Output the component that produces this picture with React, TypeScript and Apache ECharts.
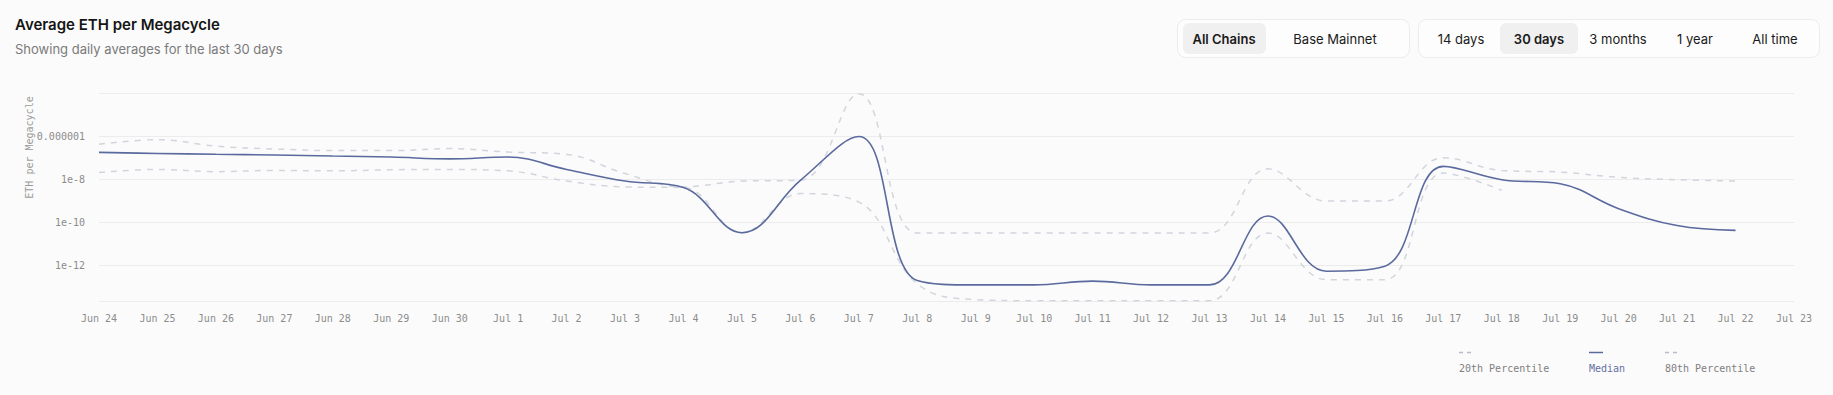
import React, { useEffect, useRef } from "react";
import * as echarts from "echarts";

const days = [
  "Jun 24", "Jun 25", "Jun 26", "Jun 27", "Jun 28", "Jun 29", "Jun 30",
  "Jul 1", "Jul 2", "Jul 3", "Jul 4", "Jul 5", "Jul 6", "Jul 7", "Jul 8",
  "Jul 9", "Jul 10", "Jul 11", "Jul 12", "Jul 13", "Jul 14", "Jul 15",
  "Jul 16", "Jul 17", "Jul 18", "Jul 19", "Jul 20", "Jul 21", "Jul 22", "Jul 23",
];

const median: (number | null)[] = [
  1.74e-7, 1.55e-7, 1.41e-7, 1.32e-7, 1.17e-7, 1.05e-7, 8.7e-8,
  1.05e-7, 2.8e-8, 8.1e-9, 4.0e-9, 3.2e-11, 8.7e-9, 9.5e-7, 1.9e-13,
  1.2e-13, 1.2e-13, 1.8e-13, 1.2e-13, 1.2e-13, 1.9e-10, 5.2e-13,
  8.9e-13, 3.9e-8, 9.3e-9, 6.0e-9, 4.2e-10, 6.9e-11, 4.1e-11, null,
];

const p80: (number | null)[] = [
  4.1e-7, 6.8e-7, 3.4e-7, 2.5e-7, 2.1e-7, 2.1e-7, 2.6e-7,
  1.8e-7, 1.4e-7, 1.8e-8, 4.3e-9, 8.1e-9, 8.7e-9, 9.3e-5, 3.1e-11,
  3.1e-11, 3.1e-11, 3.1e-11, 3.1e-11, 3.1e-11, 3.0e-8, 9.5e-10,
  9.5e-10, 9.8e-8, 2.5e-8, 2.1e-8, 1.2e-8, 9.3e-9, 8.1e-9, null,
];

const p20: (number | null)[] = [
  2.0e-8, 2.8e-8, 2.2e-8, 2.5e-8, 2.4e-8, 2.7e-8, 2.8e-8,
  2.4e-8, 8.1e-9, 4.3e-9, 4.0e-9, 3.2e-11, 2.1e-9, 8.5e-10, 1.35e-13,
  2.5e-14, 2.2e-14, 2.2e-14, 2.2e-14, 2.2e-14, 3.1e-11, 2.1e-13,
  2.1e-13, 1.9e-8, 3.0e-9, null, null, null, null, null,
];

const yTickExps = [-12, -10, -8, -6];
const yTickLabels = ["1e-12", "1e-10", "1e-8", "0.000001"];

const chainOptions = ["All Chains", "Base Mainnet"];
const rangeOptions = ["14 days", "30 days", "3 months", "1 year", "All time"];

const MONO = "'DejaVu Sans Mono', monospace";
const SANS = "Inter, 'Noto Sans', sans-serif";

const toLog = (arr: (number | null)[]) =>
  arr.map((v) => (v == null ? null : Math.log10(v)));

export default function App() {
  const ref = useRef<HTMLDivElement>(null);

  useEffect(() => {
    document.body.style.margin = "0";
    if (!ref.current) return;
    const chart = echarts.init(ref.current, null, { renderer: "svg" });

    const chainX = [1224, 1335];
    const rangeX = [1461, 1539, 1618, 1695, 1775];

    const graphic: any[] = [
      {
        type: "text",
        left: 15,
        top: 17,
        style: {
          text: "Average ETH per Megacycle",
          font: `600 15px ${SANS}`,
          fill: "#151515",
        },
      },
      {
        type: "text",
        left: 15,
        top: 42,
        style: {
          text: "Showing daily averages for the last 30 days",
          font: `400 13px ${SANS}`,
          fill: "#7a7a7a",
        },
      },
      {
        type: "rect",
        shape: { x: 1177.5, y: 19.5, width: 232, height: 38, r: 8 },
        style: { fill: "#fdfdfd", stroke: "#ececec", lineWidth: 1 },
      },
      {
        type: "rect",
        shape: { x: 1183, y: 23, width: 83, height: 31, r: 6 },
        style: { fill: "#f0f0f0" },
      },
      {
        type: "rect",
        shape: { x: 1418.5, y: 19.5, width: 401, height: 38, r: 8 },
        style: { fill: "#fdfdfd", stroke: "#ececec", lineWidth: 1 },
      },
      {
        type: "rect",
        shape: { x: 1500, y: 23, width: 78, height: 31, r: 6 },
        style: { fill: "#f0f0f0" },
      },
      ...chainOptions.map((t, i) => ({
        type: "text",
        x: chainX[i],
        y: 38.5,
        style: {
          text: t,
          font: `${i === 0 ? 600 : 400} 13px ${SANS}`,
          fill: "#1a1a1a",
          align: "center",
          verticalAlign: "middle",
        },
      })),
      ...rangeOptions.map((t, i) => ({
        type: "text",
        x: rangeX[i],
        y: 38.5,
        style: {
          text: t,
          font: `${i === 1 ? 600 : 400} 13px ${SANS}`,
          fill: "#1a1a1a",
          align: "center",
          verticalAlign: "middle",
        },
      })),
      {
        type: "text",
        x: 29,
        y: 147.5,
        rotation: Math.PI / 2,
        style: {
          text: "ETH per Megacycle",
          font: `400 10px ${MONO}`,
          fill: "#9a9a9a",
          align: "center",
          verticalAlign: "middle",
        },
      },
      {
        type: "line",
        shape: { x1: 1459, y1: 352.5, x2: 1472, y2: 352.5 },
        style: { stroke: "#b8bcc8", lineWidth: 1.5, lineDash: [4, 4] },
      },
      {
        type: "text",
        x: 1459,
        y: 368,
        style: {
          text: "20th Percentile",
          font: `400 10px ${MONO}`,
          fill: "#808080",
          verticalAlign: "middle",
        },
      },
      {
        type: "line",
        shape: { x1: 1589, y1: 352.5, x2: 1603, y2: 352.5 },
        style: { stroke: "#5a6a9e", lineWidth: 1.5 },
      },
      {
        type: "text",
        x: 1589,
        y: 368,
        style: {
          text: "Median",
          font: `400 10px ${MONO}`,
          fill: "#6470a2",
          verticalAlign: "middle",
        },
      },
      {
        type: "line",
        shape: { x1: 1665, y1: 352.5, x2: 1678, y2: 352.5 },
        style: { stroke: "#b8bcc8", lineWidth: 1.5, lineDash: [4, 4] },
      },
      {
        type: "text",
        x: 1665,
        y: 368,
        style: {
          text: "80th Percentile",
          font: `400 10px ${MONO}`,
          fill: "#808080",
          verticalAlign: "middle",
        },
      },
    ];

    const lineBase = {
      type: "line",
      smooth: 0.4,
      showSymbol: false,
    };

    chart.setOption({
      animation: false,
      backgroundColor: "#fbfbfb",
      grid: { left: 99, right: 39, top: 93, bottom: 94 },
      xAxis: {
        type: "category",
        data: days,
        boundaryGap: false,
        axisLine: { show: false },
        axisTick: { show: false },
        splitLine: { show: false },
        axisLabel: {
          interval: 0,
          margin: 12,
          color: "#8c8c8c",
          fontFamily: MONO,
          fontSize: 10,
        },
      },
      yAxis: {
        type: "value",
        min: -13.67,
        max: -4,
        minInterval: 2,
        maxInterval: 2,
        axisLine: { show: false },
        axisTick: { show: false },
        splitLine: { show: true, lineStyle: { color: "#ececec", width: 1 } },
        axisLabel: {
          margin: 14,
          color: "#8c8c8c",
          fontFamily: MONO,
          fontSize: 10,
          formatter: (v: number) => {
            const r = Math.round(v);
            if (Math.abs(v - r) > 0.01) return "";
            const i = yTickExps.indexOf(r);
            return i >= 0 ? yTickLabels[i] : "";
          },
        },
      },
      series: [
        {
          ...lineBase,
          name: "20th Percentile",
          data: toLog(p20),
          lineStyle: { color: "#d2d5de", width: 1.5, type: [6, 6] },
          z: 2,
        },
        {
          ...lineBase,
          name: "80th Percentile",
          data: toLog(p80),
          lineStyle: { color: "#d2d5de", width: 1.5, type: [6, 6] },
          z: 2,
        },
        {
          ...lineBase,
          name: "Median",
          data: toLog(median),
          lineStyle: { color: "#5a6a9e", width: 1.6 },
          z: 3,
        },
      ],
      graphic,
    });

    return () => chart.dispose();
  }, []);

  return <div ref={ref} style={{ width: 1833, height: 395 }} />;
}
